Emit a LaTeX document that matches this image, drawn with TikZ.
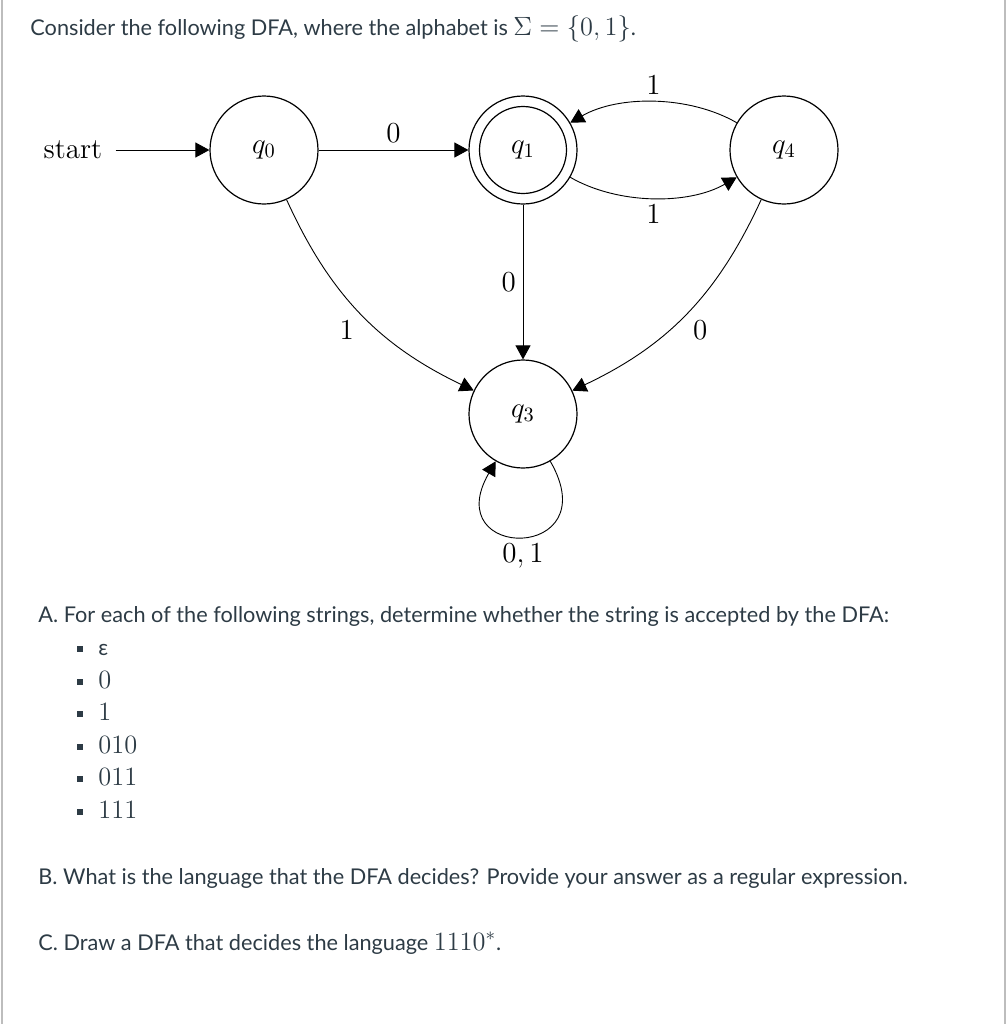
\RequirePackage{fix-cm}
\documentclass[tikz,border=0pt]{standalone}
\usepackage{fontspec}
\newfontfamily\uifont{Lato}
\usepackage{tikz}
\usetikzlibrary{arrows.meta, positioning}

\definecolor{canvastext}{HTML}{2D3B45}
\definecolor{framegray}{HTML}{BDBDBD}
\newcommand{\dfafont}{\fontsize{14.5}{17}\selectfont}
\newcommand{\bodyfont}{\uifont\fontsize{10.85}{13}\selectfont}
\newcommand{\mathsz}{\fontsize{13.2}{16}\selectfont}

\begin{document}
\begin{tikzpicture}[
  x=0.5pt, y=-0.5pt, on grid,
  >={Triangle[length=7pt, width=7.5pt]}, line width=0.45pt,
  dfastate/.style = {draw, circle, line width=0.6pt, minimum size=54pt, inner sep=0pt, font=\dfafont},
  acceptring/.style = {draw, circle, line width=0.6pt, minimum size=43.5pt, inner sep=0pt},
  lbl/.style   = {font=\dfafont},
  txt/.style   = {anchor=base west, inner sep=0pt, font=\bodyfont, text=canvastext},
  bullet/.style = {fill=canvastext, inner sep=0pt, minimum size=3pt},
]
  \useasboundingbox (0,0) rectangle (1006,1024);

  % Page frame
  \draw[framegray, line width=1pt] (1.5,0) -- (1.5,1024);
  \draw[framegray, line width=1pt] (1004.5,0) -- (1004.5,1024);

  % Question text
  \node[txt] (intro) at (30,35) {Consider the following DFA, where the alphabet is {\mathsz$\Sigma = \{0, 1\}$}.};

  % States
  \node[dfastate]                    (q0)    at (264,150) {$q_0$};
  \node[dfastate, right=129.5pt of q0] (q1)    {$q_1$};
  \node[acceptring]                  (q1in)  at (q1) {};
  \node[dfastate, right=130.5pt of q1] (q4)    {$q_4$};
  \node[dfastate, below=132pt of q1]   (q3)    {$q_3$};
  \node[font=\dfafont, inner sep=6.5pt, left=95.5pt of q0] (start) {start};

  % Transitions
  \draw[->] (start) -- (q0);
  \draw[->] (q0) -- node[lbl, above]{$0$} (q1);
  \draw[->] (q1) to[bend right=30, looseness=0.85] node[lbl, below]{$1$} (q4);
  \draw[->] (q4) to[bend right=30, looseness=0.85] node[lbl, above]{$1$} (q1);
  \draw[->] (q1) -- node[lbl, left]{$0$} (q3);
  \draw[->] (q0) to[bend right=20] node[lbl, below left]{$1$} (q3);
  \draw[->] (q4) to[bend left=20] node[lbl, below right]{$0$} (q3);
  \draw[->] (q3) to[out=-60, in=-120, min distance=58pt, max distance=58pt] node[lbl, below]{$0, 1$} (q3);

  % Part A
  \node[txt] (parta) at (38,622) {A. For each of the following strings, determine whether the string is accepted by the DFA:};
  \node[bullet] (b1) at (80,649) {};
  \node[txt]    (s1) at (98,655.5) {ε};
  \node[bullet] (b2) at (80,681.5) {};
  \node[txt]    (s2) at (98,688) {\mathsz$0$};
  \node[bullet] (b3) at (80,714) {};
  \node[txt]    (s3) at (98,720.5) {\mathsz$1$};
  \node[bullet] (b4) at (80,746.5) {};
  \node[txt]    (s4) at (98,753) {\mathsz$010$};
  \node[bullet] (b5) at (80,779) {};
  \node[txt]    (s5) at (98,785.5) {\mathsz$011$};
  \node[bullet] (b6) at (80,811.5) {};
  \node[txt]    (s6) at (98,818) {\mathsz$111$};

  % Parts B and C
  \node[txt] (partb) at (38,884) {B. What is the language that the DFA decides? Provide your answer as a regular expression.};
  \node[txt] (partc) at (38,950) {C. Draw a DFA that decides the language {\mathsz$1110^*$}.};
\end{tikzpicture}
\end{document}
